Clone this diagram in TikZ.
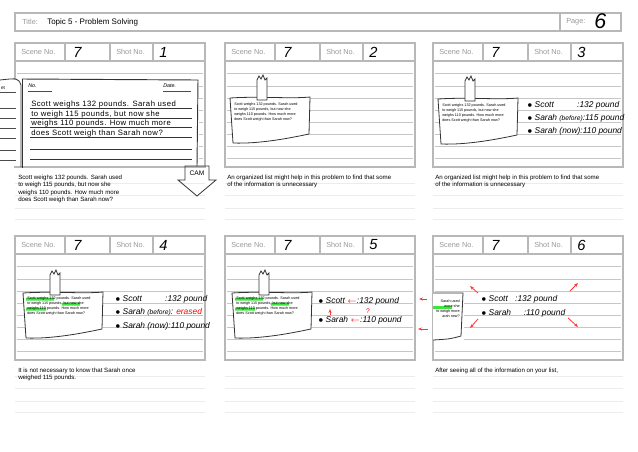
\documentclass[tikz,border=0pt]{standalone}
\usepackage{fontspec}
\setmainfont{Liberation Sans}
\usetikzlibrary{arrows.meta}
\definecolor{frame}{gray}{0.72}
\definecolor{lbl}{gray}{0.6}
\definecolor{hl}{RGB}{60,230,60}
\tikzset{
 frm/.style={draw=frame,line width=0.9pt},
 rule/.style={draw=frame!80,line width=0.5pt},
 capline/.style={draw=gray!15,line width=0.5pt},
 lab/.style={text=lbl,font=\fontsize{5.5pt}{6pt}\selectfont,anchor=west,inner sep=0},
 hand/.style={font=\fontsize{11pt}{12pt}\itshape\selectfont,anchor=west,inner sep=0},
 tiny/.style={font=\fontsize{2.8pt}{3.6pt}\selectfont,align=left,inner sep=0,anchor=north west},
 captxt/.style={font=\fontsize{4.6pt}{5.4pt}\selectfont,align=left,inner sep=0,anchor=north west},
 list/.style={font=\fontsize{6.3pt}{7pt}\itshape\selectfont,anchor=west,inner sep=0},
 paper/.style={draw=black!80,fill=white,line width=0.6pt},
 redarr/.style={draw=red!80,line width=0.6pt,-{Stealth[length=3pt]}},
}
\newcommand{\panel}[5]{% x y scene shot name
 \begin{scope}[shift={(#1,#2)}]
  \draw[frm] (0,0) rectangle (190,124);
  \draw[frm] (0,18) -- (190,18);
  \draw[frm] (50,0) -- (50,18) (95,0)--(95,18) (138,0)--(138,18);
  \node[lab] (#5sc) at (6,9) {Scene No.};
  \node[lab] (#5sh) at (101,9) {Shot No.};
  \node[hand] (#5n1) at (58,9) {#3};
  \node[hand] (#5n2) at (144,9) {#4};
  \foreach \yy in {30,43,55,67,79,91,103,115} \draw[rule] (2,\yy) -- (188,\yy);
  \foreach \yy in {140,152,165,176} \draw[capline] (0,\yy) -- (190,\yy);
 \end{scope}}
\newcommand{\sheet}[3]{% x y name
 \begin{scope}[shift={(#1,#2)}]
  \draw[paper] (0,0) .. controls (30,-2) and (60,1) .. (80,-1) -- (79,36) .. controls (60,40) and (30,46) .. (3,45) -- cycle;
  \draw[paper] (27,-18) -- (29,-22) -- (31,-19) -- (33,-23) -- (35,-18) -- (37,-20) -- (37,2) -- (27,2) -- cycle;
 \end{scope}}
\begin{document}
\begin{tikzpicture}[x=0.75pt,y=-0.75pt]
\useasboundingbox (0,0) rectangle (638,451);
\fill[white] (0,0) rectangle (638,451);
% title bar
\draw[frm] (15,13) rectangle (621,31);
\draw[frm] (560,13) -- (560,31);
\node[lab] (tl) at (22,22) {Title:};
\node[font=\fontsize{6pt}{7pt}\selectfont,anchor=west,inner sep=0] (tt) at (47,22) {Topic 5 - Problem Solving};
\node[lab] (pg) at (566,22) {Page:};
\node[hand,font=\fontsize{16pt}{16pt}\itshape\selectfont] (pn) at (594,21) {6};
% panels
\panel{15}{43}{7}{1}{pa}
\panel{225}{43}{7}{2}{pb}
\panel{433}{43}{7}{3}{pc}
\panel{15}{236}{7}{4}{pd}
\panel{225}{236}{7}{5}{pe}
\panel{433}{236}{7}{6}{pf}
% panel 1 notebook
\fill[white] (1,80) rectangle (199,166);
\draw[black!80,line width=0.6pt] (0,80) .. controls (18,78) .. (21,85) -- (21,167);
\foreach \yy in {92,108,118,128,138,150,160} \draw[black!70,line width=0.5pt] (0,\yy) -- (16,\yy);
\node[font=\fontsize{3.5pt}{4pt}\selectfont,inner sep=0] (et) at (3,88) {et};
\draw[black!80,line width=0.7pt] (22,79) -- (198,80) -- (197,166);
\draw[black!80,line width=0.7pt] (22,79) -- (22,168);
\node[font=\fontsize{4pt}{5pt}\itshape\selectfont,anchor=west,inner sep=0] (no) at (28,86) {No.};
\draw[black!70,line width=0.4pt] (28,91) -- (52,91) (163,91) -- (191,91);
\node[font=\fontsize{4pt}{5pt}\itshape\selectfont,anchor=west,inner sep=0] (dt) at (163,86) {Date.};
\foreach \t [count=\i] in {Scott weighs 132 pounds. Sarah used,to weigh 115 pounds{,} but now she,weighs 110 pounds. How much more,does Scott weigh than Sarah now?}
 \node[font=\fontsize{5.8pt}{7pt}\selectfont,anchor=west,inner sep=0] at (31,95+9.5*\i) {\addfontfeature{LetterSpace=6}\t};
\foreach \yy in {108,118,127,137,149,159} \draw[black!80,line width=0.5pt] (30,\yy) -- (192,\yy);
% CAM arrow
\draw[black!80,line width=0.6pt] (185,166) -- (209,166) -- (209,180) -- (216,180) -- (197,196) -- (178,180) -- (185,180) -- cycle;
\node[font=\fontsize{5pt}{6pt}\selectfont,inner sep=0] (cam) at (197,173) {CAM};
\node[captxt] (c1) at (18,175) {Scott weighs 132 pounds. Sarah used\\to weigh 115 pounds, but now she\\weighs 110 pounds. How much more\\does Scott weigh than Sarah now?};
% panel 2
\sheet{230}{98}{s2}
\node[tiny] (t2) at (234,103) {Scott weighs 132 pounds. Sarah used\\to weigh 115 pounds, but now she\\weighs 110 pounds. How much more\\does Scott weigh than Sarah now?};
\node[captxt] (c2) at (227,175) {An organized list might help in this problem to find that some\\of the information is unnecessary};
% panel 3
\sheet{438}{99}{s3}
\node[tiny] (t3) at (442,104) {Scott weighs 132 pounds. Sarah used\\to weigh 115 pounds, but now she\\weighs 110 pounds. How much more\\does Scott weigh than Sarah now?};
\node[list] (l31) at (527,105) {$\bullet$ Scott \hspace{14pt} :132 pound};
\node[list] (l32) at (527,118) {$\bullet$ Sarah {\tiny(before)}:115 pound};
\node[list] (l33) at (527,131) {$\bullet$ Sarah (now):110 pound};
\node[captxt] (c3) at (435,175) {An organized list might help in this problem to find that some\\of the information is unnecessary};
% panel 4
\sheet{23}{293}{s4}
\fill[hl] (26,297.5) rectangle (54,300.5) (26,307.5) rectangle (46,310.5) (62,302.5) rectangle (80,305.5);
\node[tiny] (t4) at (27,297) {Scott weighs 132 pounds. Sarah used\\to weigh 115 pounds, but now she\\weighs 110 pounds. How much more\\does Scott weigh than Sarah now?};
\node[list] (l41) at (115,299) {$\bullet$ Scott \hspace{14pt} :132 pound};
\node[list] (l42) at (115,312) {$\bullet$ Sarah {\tiny(before)}: \textcolor{red}{erased}};
\node[list] (l43) at (115,326) {$\bullet$ Sarah (now):110 pound};
\node[captxt] (c4) at (18,368) {It is not necessary to know that Sarah once\\weighed 115 pounds.};
% panel 5
\sheet{232}{293}{s5}
\fill[hl] (235,297.5) rectangle (263,300.5) (235,307.5) rectangle (255,310.5) (271,302.5) rectangle (289,305.5);
\node[tiny] (t5) at (236,297) {Scott weighs 132 pounds. Sarah used\\to weigh 115 pounds, but now she\\weighs 110 pounds. How much more\\does Scott weigh than Sarah now?};
\node[list] (l51) at (318,301) {$\bullet$ Scott \textcolor{red}{$\leftarrow$}:132 pound};
\node[list] (l52) at (318,320) {$\bullet$ Sarah \textcolor{red}{$\leftarrow$}:110 pound};
\node[font=\fontsize{5pt}{5pt}\selectfont,text=red,inner sep=0] (q5) at (368,311) {?};
\draw[redarr] (330,315) -- (330,309);
% panel 6
\fill[white] (433,292) rectangle (464,340);
\draw[paper] (433,293) -- (463,293) -- (461,336) .. controls (450,339) .. (433,340);
\fill[hl] (433,305.5) rectangle (452,308.5);
\node[tiny,anchor=north east,align=right] (t6) at (460,300) {Sarah used\\more she\\to weigh more\\arah now?};
\node[list] (l61) at (481,299) {$\bullet$ Scott \hspace{2pt} :132 pound};
\node[list] (l62) at (481,313) {$\bullet$ Sarah \hspace{6pt} :110 pound};
\coordinate (a1) at (478,293); \coordinate (a1e) at (470,286);
\coordinate (a2) at (570,291); \coordinate (a2e) at (578,283);
\coordinate (a3) at (478,319); \coordinate (a3e) at (470,328);
\coordinate (a4) at (568,318); \coordinate (a4e) at (578,327);
\draw[redarr] (a1) -- (a1e); \draw[redarr] (a2) -- (a2e);
\draw[redarr] (a3) -- (a3e); \draw[redarr] (a4) -- (a4e);
\coordinate (b1) at (427,299); \coordinate (b1e) at (419,299);
\coordinate (b2) at (428,329); \coordinate (b2e) at (418,329);
\draw[redarr] (b1) -- (b1e); \draw[redarr] (b2) -- (b2e);
\node[captxt] (c6) at (435,368) {After seeing all of the information on your list,};
\end{tikzpicture}
\end{document}
